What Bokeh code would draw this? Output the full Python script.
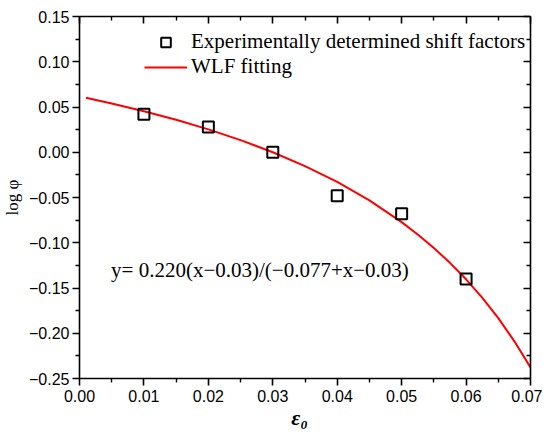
from bokeh.plotting import figure
from bokeh.models import (LinearAxis, FixedTicker, Range1d, Label, Legend, LegendItem)
from bokeh.embed import file_html
from bokeh.resources import INLINE

# ---- data ----
exp_x = [0.01, 0.02, 0.03, 0.04, 0.05, 0.06]
exp_y = [0.042, 0.028, 0.000, -0.048, -0.068, -0.140]

fit_x = [0.001, 0.005, 0.010, 0.015, 0.020, 0.025, 0.030, 0.035, 0.040, 0.045,
         0.050, 0.0525, 0.055, 0.0575, 0.060, 0.0625, 0.065, 0.0675, 0.070]
fit_y = [0.0602, 0.0539, 0.0454, 0.0359, 0.0253, 0.0134, 0.0000, -0.0153, -0.0328, -0.0532,
         -0.0772, -0.0908, -0.1058, -0.1222, -0.1404, -0.1607, -0.1833, -0.2089, -0.2378]

x_ticks = [0.00, 0.01, 0.02, 0.03, 0.04, 0.05, 0.06, 0.07]
x_tick_labels = ["0.00", "0.01", "0.02", "0.03", "0.04", "0.05", "0.06", "0.07"]
x_minor = [0.005, 0.015, 0.025, 0.035, 0.045, 0.055, 0.065]
y_ticks = [-0.25, -0.20, -0.15, -0.10, -0.05, 0.00, 0.05, 0.10, 0.15]
y_tick_labels = ["\u22120.25", "\u22120.20", "\u22120.15", "\u22120.10", "\u22120.05",
                 "0.00", "0.05", "0.10", "0.15"]
y_minor = [-0.225, -0.175, -0.125, -0.075, -0.025, 0.025, 0.075, 0.125]

legend_labels = ["Experimentally determined shift factors", "WLF fitting"]
equation = "y= 0.220(x\u22120.03)/(\u22120.077+x\u22120.03)"
x_title = "\u03b5\u2080\u2002"
y_title = "log \u03c6"

SERIF = "Liberation Serif"
SANS = "Liberation Sans"

p = figure(width=542, height=432, output_backend="svg", toolbar_location=None,
           x_range=Range1d(0, 0.07), y_range=Range1d(-0.25, 0.15),
           min_border_left=78, min_border_right=12, min_border_top=16, min_border_bottom=51,
           x_axis_location=None, y_axis_location=None)
p.grid.visible = False
p.outline_line_color = None
p.background_fill_color = "white"
p.border_fill_color = "white"


def make_axis(ticks, minor, labels, show_labels, outward):
    ax = LinearAxis(ticker=FixedTicker(ticks=ticks, minor_ticks=minor))
    ax.axis_line_width = 1.6
    ax.axis_line_color = "black"
    ax.major_tick_line_width = 1.6
    ax.minor_tick_line_width = 1.4
    ax.major_tick_line_color = "black"
    ax.minor_tick_line_color = "black"
    if outward:
        ax.major_tick_out = 7
        ax.major_tick_in = 0
        ax.minor_tick_out = 4
        ax.minor_tick_in = 0
    else:
        ax.major_tick_out = 0
        ax.major_tick_in = 7
        ax.minor_tick_out = 0
        ax.minor_tick_in = 4
    if show_labels:
        ax.major_label_overrides = {t: l for t, l in zip(ticks, labels)}
        ax.major_label_text_font = SANS
        ax.major_label_text_font_size = "16px"
        ax.major_label_text_color = "black"
    else:
        ax.major_label_overrides = {t: "" for t in ticks}
        ax.major_label_text_font_size = "0px"
        ax.major_label_standoff = 0
    return ax


bottom = make_axis(x_ticks, x_minor, x_tick_labels, True, True)
bottom.major_label_standoff = 4
bottom.axis_label = x_title
bottom.axis_label_text_font = SERIF
bottom.axis_label_text_font_size = "22px"
bottom.axis_label_text_font_style = "bold italic"
bottom.axis_label_text_color = "black"
bottom.axis_label_standoff = 0

left = make_axis(y_ticks, y_minor, y_tick_labels, True, True)
left.major_label_standoff = 3
left.axis_label = y_title
left.axis_label_text_font = SERIF
left.axis_label_text_font_size = "17px"
left.axis_label_text_font_style = "normal"
left.axis_label_text_color = "black"
left.axis_label_standoff = 4

top = make_axis(x_ticks, x_minor, x_tick_labels, False, False)
right = make_axis(y_ticks, y_minor, y_tick_labels, False, False)
p.add_layout(bottom, "below")
p.add_layout(left, "left")
p.add_layout(top, "above")
p.add_layout(right, "right")

line_r = p.line(fit_x, fit_y, line_color="#ff0000", line_width=2)
sq_r = p.scatter(exp_x, exp_y, marker="square", size=11, fill_color=None,
                 line_color="black", line_width=2)

legend = Legend(items=[LegendItem(label=legend_labels[0], renderers=[sq_r]),
                       LegendItem(label=legend_labels[1], renderers=[line_r])],
                location=(65, 299), orientation="vertical")
legend.border_line_color = None
legend.background_fill_alpha = 0
legend.padding = 0
legend.margin = 0
legend.spacing = 0
legend.glyph_width = 43
legend.glyph_height = 24
legend.label_height = 24
legend.label_standoff = 4
legend.label_text_font = SERIF
legend.label_text_font_size = "21px"
legend.label_text_color = "black"
legend.label_text_baseline = "middle"
p.add_layout(legend, "center")

p.add_layout(Label(x=0.0049, y=-0.1305, text=equation, text_font=SERIF,
                   text_font_size="21px", text_color="black",
                   text_baseline="middle", text_align="left"))

open("out.html", "w").write(file_html(p, INLINE))
